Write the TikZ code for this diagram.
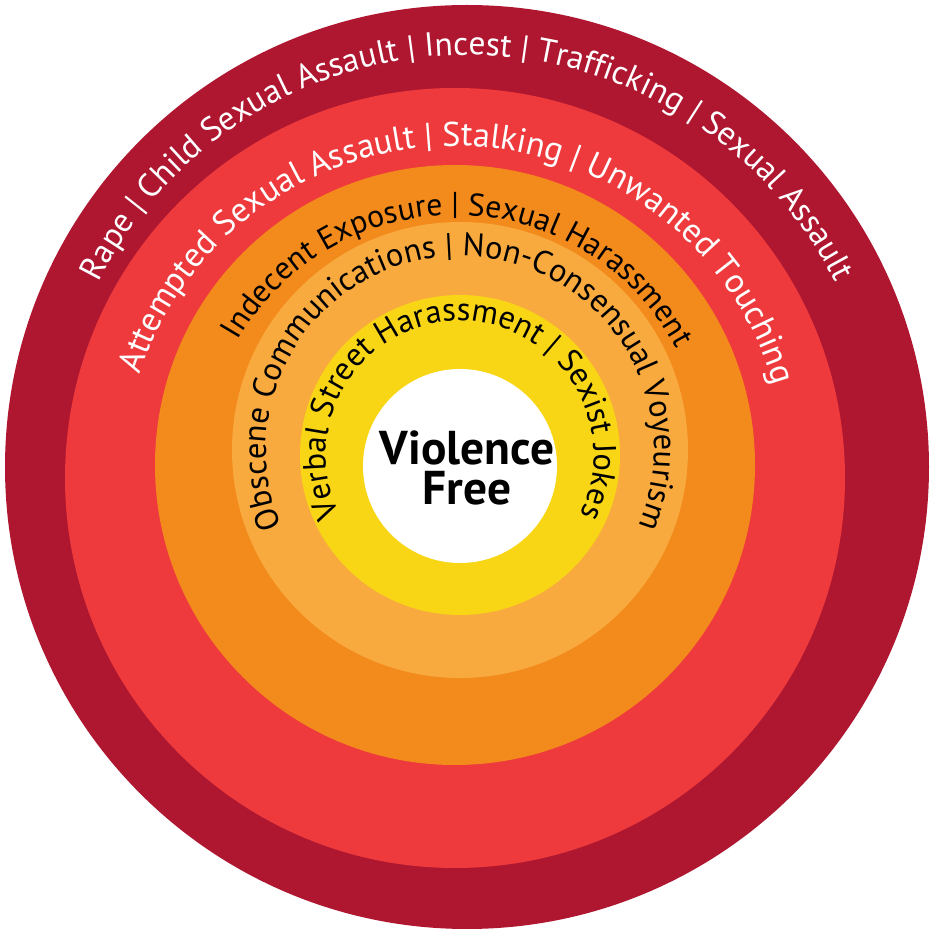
\documentclass[tikz,border=0pt]{standalone}
\usepackage{fontspec}
\setmainfont{PT Sans}
\usetikzlibrary{decorations.text}
\definecolor{cdark}{HTML}{AF1730}
\definecolor{cred}{HTML}{EE3A3C}
\definecolor{corange}{HTML}{F28A1C}
\definecolor{clight}{HTML}{F9AA3E}
\definecolor{cyellow}{HTML}{F8D616}
\tikzset{
  arctext/.style n args={3}{decorate,decoration={text along path,text format delimiters={[}{]},
    text={[\fontsize{#2}{#2}\selectfont\color{#3}]#1},text align=center}}
}
\begin{document}
\begin{tikzpicture}[x=0.02cm,y=0.02cm]
\useasboundingbox (0,0) rectangle (934,934);
\fill[white] (0,0) rectangle (934,934);
\fill[cdark] (467,467) circle[radius=462];
\fill[cred] (455,456) circle[radius=390];
\fill[corange] (455,469) circle[radius=300];
\fill[clight] (460,484) circle[radius=228];
\fill[cyellow] (460,479) circle[radius=160];
\fill[white] (460,468) circle[radius=97];
\node[font=\fontsize{27}{27}\selectfont\bfseries,align=center] (vf) at (467,466) {Violence\\[-4pt]Free};
\path[arctext={Rape | Child Sexual Assault | Incest | Trafficking | Sexual Assault}{19}{white}]
  (467,467) ++(166:412) arc[start angle=166,end angle=14,radius=412];
\path[arctext={Attempted Sexual Assault | Stalking | Unwanted Touching}{19.5}{white}]
  (455,456) ++(166:332) arc[start angle=166,end angle=12,radius=332];
\path[arctext={Indecent Exposure | Sexual Harassment}{18}{black}]
  (455,469) ++(155:250) arc[start angle=155,end angle=23,radius=250];
\path[arctext={Obscene Communications | Non-Consensual Voyeurism}{18.5}{black}]
  (460,484) ++(216:194) arc[start angle=216,end angle=-36,radius=194];
\path[arctext={Verbal Street Harassment | Sexist Jokes}{18.5}{black}]
  (460,479) ++(232:134) arc[start angle=232,end angle=-52,radius=134];
\end{tikzpicture}
\end{document}
